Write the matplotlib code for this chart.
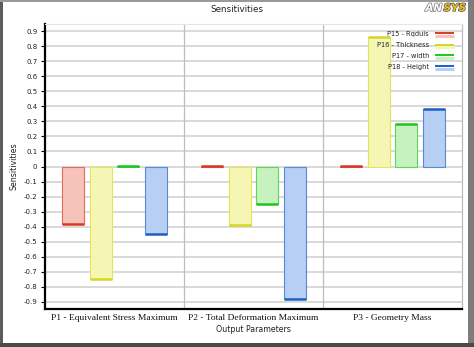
import numpy as np
import matplotlib
matplotlib.use("Agg")
import matplotlib.pyplot as plt
from matplotlib.patches import Rectangle
from matplotlib.lines import Line2D
import matplotlib.patheffects as pe

# Output parameters (categories) and input parameters (series)
outputs = ["P1 - Equivalent Stress Maximum",
           "P2 - Total Deformation Maximum",
           "P3 - Geometry Mass"]
inputs = ["P15 - Rqduis", "P16 - Thickness", "P17 - width", "P18 - Height"]

rqduis = [-0.38, 0.005, 0.005]
thickness = [-0.75, -0.39, 0.86]
width = [0.005, -0.25, 0.285]
height = [-0.45, -0.88, 0.385]

ytick_values = [-0.9, -0.8, -0.7, -0.6, -0.5, -0.4, -0.3, -0.2, -0.1, 0,
                0.1, 0.2, 0.3, 0.4, 0.5, 0.6, 0.7, 0.8, 0.9]

series = [rqduis, thickness, width, height]
fills = ["#f6c3bb", "#f6f6b4", "#c6f2c0", "#b6cff2"]
edges = ["#e46a5a", "#e4e45a", "#5ed65a", "#5a88d6"]
darks = ["#d83a24", "#d6d626", "#22c41e", "#1f5fc4"]

fig = plt.figure(figsize=(4.74, 3.47), dpi=100)
fig.patch.set_facecolor("white")

ax = fig.add_axes([45 / 474, 1 - 309 / 347, 417 / 474, 285 / 347])
ax.set_xlim(-0.5, 2.5)
ax.set_ylim(-0.947, 0.947)

# grid
for v in ytick_values:
    ax.axhline(v, color="#cfcfcf", lw=1.1, zorder=1)
for xs in [0.5, 1.5]:
    ax.axvline(xs, color="#bdbdbd", lw=0.9, zorder=1)

bar_w = 0.158
offsets = [-0.3, -0.1, 0.1, 0.3]
base = np.arange(len(outputs))
for vals, off, fc, ec, dc in zip(series, offsets, fills, edges, darks):
    x = base + off
    ax.bar(x, vals, width=bar_w, color=fc, edgecolor=ec, lw=0.8, zorder=3)
    ax.hlines(vals, x - bar_w / 2, x + bar_w / 2, color=dc, lw=1.8, zorder=4)

ax.set_xticks(base)
ax.set_xticklabels(outputs, family="Liberation Serif", fontsize=6.8, color="#111111")
ax.tick_params(axis="x", length=0, pad=3.5)
ax.set_yticks(ytick_values)
ax.set_yticklabels([f"{v:g}" for v in ytick_values], fontsize=5, color="#222222")
ax.tick_params(axis="y", length=3, width=0.8, pad=2.5)

for side in ["left", "bottom"]:
    ax.spines[side].set_linewidth(1.6)
    ax.spines[side].set_color("black")
ax.spines["right"].set_color("#bdbdbd")
ax.spines["right"].set_linewidth(0.9)
ax.spines["top"].set_color("#e6e6e6")
ax.spines["top"].set_linewidth(0.8)

ax.set_ylabel("Sensitivities", fontsize=5.7, labelpad=4, color="#222222")
ax.set_xlabel("Output Parameters", fontsize=5.65, labelpad=2.5, color="#222222")

# legend: right-aligned labels with handles to the right
leg_y = [0.965, 0.926, 0.888, 0.849]
for name, yy, fc, dc in zip(inputs, leg_y, fills, darks):
    ax.text(0.921, yy, name, transform=ax.transAxes, ha="right", va="center",
            fontsize=4.8, color="#222222", zorder=6)
    ax.add_line(Line2D([0.935, 0.981], [yy - 0.006, yy - 0.006], transform=ax.transAxes,
                       color=fc, lw=2.2, zorder=6, solid_capstyle="butt"))
    ax.add_line(Line2D([0.935, 0.981], [yy + 0.002, yy + 0.002], transform=ax.transAxes,
                       color=dc, lw=1.4, zorder=7, solid_capstyle="butt"))

fig.text(0.5, 1 - 9 / 347, "Sensitivities", ha="center", va="center",
         fontsize=6.3, color="#222222")

# logo
t1 = fig.text(466 / 474, 1 - 8 / 347, "SYS", ha="right", va="center", fontsize=7.5,
              fontweight="bold", fontstyle="italic", color="#f2c21a")
t1.set_path_effects([pe.Stroke(linewidth=1.0, foreground="#555555"), pe.Normal()])
t2 = fig.text(442 / 474, 1 - 8 / 347, "AN", ha="right", va="center", fontsize=7.5,
              fontweight="bold", fontstyle="italic", color="white")
t2.set_path_effects([pe.Stroke(linewidth=1.0, foreground="#777777"), pe.Normal()])

# window frame
W, H = 474, 347
frame = [((0, 0), 2.5, H, "#5c5c5c"),
         ((0, H - 2), W, 2, "#9a9a9a"),
         ((468, 0), 6, H, "#7d7d7d"),
         ((0, 0), W, 4.5, "#4a4a4a")]
for (x0, y0), w, h, c in frame:
    fig.add_artist(Rectangle((x0 / W, y0 / H), w / W, h / H, transform=fig.transFigure,
                             facecolor=c, edgecolor="none", zorder=10))

fig.savefig("out.png", dpi=100)
